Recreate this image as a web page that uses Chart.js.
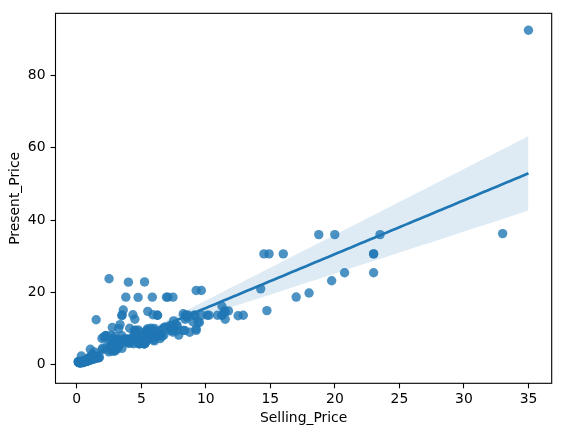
<!DOCTYPE html>
<html>
<head>
<meta charset="utf-8">
<script src="https://cdn.jsdelivr.net/npm/chart.js@4.4.1/dist/chart.umd.min.js"></script>
<style>
  html, body { margin: 0; padding: 0; background: #fff; }
  #wrap { width: 570px; height: 438px; }
</style>
</head>
<body>
<div id="wrap"><canvas id="myChart" width="570" height="438"></canvas></div>
<script>
// Selling_Price / Present_Price pairs (same index = same point)
const sellingPrice = [
    // cars, first block
    3.35, 4.75, 7.25, 2.85, 4.6, 9.25, 6.75, 6.5, 8.75, 7.45,
    2.85, 6.85, 7.5, 6.1, 2.25, 7.75, 7.25, 7.75, 3.25, 2.65,
    2.85, 4.9, 4.4, 2.5, 2.9, 3, 4.15, 6, 1.95, 7.45,
    3.1, 2.35, 4.95, 6, 5.5, 2.95, 4.65, 0.35, 3, 2.25,
    5.85, 2.55, 1.95, 5.5, 1.25, 7.5, 2.65, 1.05, 5.8, 7.75,
    14.9, 23, 18, 16, 2.75, 3.6, 4.5, 4.75, 4.1, 19.99,
    6.95, 4.5, 18.75, 23.5, 33, 4.75, 19.75, 9.25, 4.35, 14.25,
    3.95, 4.5, 7.45, 2.65, 4.9, 3.95, 5.5, 1.5, 5.25, 14.5,
    14.73, 4.75, 23, 12.5, 3.49, 2.5, 35, 5.9, 3.45, 4.75,
    3.8, 11.25, 3.51, 23, 4, 5.85, 20.75, 17, 7.05, 9.65,
    // two-wheelers
    1.75, 1.7, 1.65, 1.45, 1.35, 1.35, 1.35, 1.25, 1.2, 1.2,
    1.15, 1.15, 1.11, 1.1, 1.1, 1.1, 1.05, 1.05, 1.05, 1,
    0.95, 0.9, 0.9, 0.75, 0.8, 0.78, 0.75, 0.75, 0.65, 0.6,
    0.6, 0.6, 0.6, 0.6, 0.6, 0.55, 0.55, 0.52, 0.51, 0.5,
    0.5, 0.48, 0.48, 0.48, 0.45, 0.45, 0.45, 0.42, 0.42, 0.4,
    0.4, 0.4, 0.4, 0.38, 0.38, 0.35, 0.35, 0.35, 0.3, 0.3,
    0.3, 0.3, 0.3, 0.27, 0.25, 0.25, 0.25, 0.25, 0.25, 0.2,
    0.2, 0.2, 0.2, 0.2, 0.2, 0.2, 0.18, 0.17, 0.16, 0.16,
    0.15, 0.15, 0.12, 0.1, 0.45, 0.5, 0.65, 0.72, 0.85, 0.9,
    1.0, 1.2, 0.4, 0.25, 0.35, 0.6, 0.3, 0.2, 0.45, 0.5,
    // cars, second block
    3.25, 4.4, 2.95, 2.75, 5.25, 5.75, 5.15, 7.9, 4.85, 3.1,
    11.75, 11.25, 2.9, 5.25, 4.5, 2.9, 3.15, 6.45, 4.5, 3.5,
    4.5, 6.0, 8.25, 5.11, 2.7, 5.25, 2.55, 4.95, 3.1, 6.15,
    9.25, 11.45, 3.9, 5.5, 9.1, 3.1, 11.25, 4.8, 2.0, 5.35,
    6.25, 5.95, 5.2, 3.75, 5.95, 4.0, 5.25, 12.9, 5.0, 5.4,
    7.2, 5.25, 3.0, 10.25, 8.5, 8.4, 3.9, 9.15, 5.5, 4.0,
    6.6, 4.0, 6.5, 3.65, 8.35, 4.8, 6.7, 4.1, 3.0, 7.5,
    2.25, 5.3, 10.9, 8.65, 9.7, 6.0, 6.25, 5.25, 2.1, 8.25,
    8.99, 3.5, 7.4, 5.65, 5.75, 8.4, 10.11, 4.5, 5.4, 6.4,
    3.25, 3.75, 8.55, 9.5, 4.0, 3.35, 11.5, 5.3, 9.4, 11.5, 3.25
];
const presentPrice = [
    5.59, 9.54, 9.85, 4.15, 6.87, 9.83, 8.12, 8.61, 8.89, 8.92,
    3.6, 10.38, 9.94, 7.71, 7.21, 10.79, 10.79, 10.79, 5.09, 7.98,
    3.95, 5.71, 8.01, 3.46, 4.41, 4.99, 5.87, 6.49, 3.95, 10.38,
    5.98, 4.89, 7.49, 9.95, 8.06, 7.74, 7.2, 2.28, 3.76, 7.98,
    7.87, 3.98, 7.15, 8.06, 2.69, 12.04, 4.89, 4.15, 7.71, 9.29,
    30.61, 30.61, 19.77, 30.61, 10.21, 15.04, 7.7, 18.54, 6.8, 35.96,
    18.61, 7.7, 35.96, 35.96, 36.23, 6.95, 23.15, 20.45, 13.74, 20.91,
    6.76, 12.48, 18.61, 5.71, 8.93, 6.8, 14.68, 12.35, 22.83, 30.61,
    14.89, 7.85, 25.39, 13.46, 13.46, 23.73, 92.6, 13.74, 6.05, 6.76,
    18.61, 16.09, 13.7, 30.61, 22.78, 18.61, 25.39, 18.64, 18.61, 20.45,

    1.9, 1.82, 1.78, 1.6, 1.47, 2.37, 3.45, 1.5, 1.5, 1.47,
    2.37, 1.4, 1.47, 1.47, 1.9, 1.26, 1.5, 1.17, 1.75, 1.75,
    1.75, 1.75, 1.05, 0.95, 0.87, 0.84, 0.82, 0.81, 0.74, 0.787,
    0.84, 0.82, 0.81, 0.99, 0.95, 0.82, 0.81, 0.51, 0.73, 0.84,
    0.88, 0.54, 0.51, 0.54, 0.54, 0.55, 0.81, 0.73, 0.52, 0.51,
    0.52, 0.54, 0.51, 0.57, 0.52, 0.52, 0.52, 0.54, 0.51, 0.52,
    0.57, 0.51, 0.57, 0.47, 0.57, 0.58, 0.52, 0.32, 0.51, 0.57,
    0.52, 0.51, 0.75, 0.65, 0.787, 0.52, 0.75, 0.52, 0.51, 0.54,
    0.55, 0.51, 0.58, 0.75, 0.64, 0.65, 0.95, 0.95, 0.99, 1.05,
    1.2, 1.5, 0.55, 0.47, 0.58, 0.8, 0.48, 0.58, 0.51, 0.65,

    6.79, 5.7, 4.6, 4.43, 5.7, 7.13, 5.7, 8.1, 5.7, 4.6,
    14.79, 13.6, 6.79, 5.7, 9.4, 4.43, 4.43, 7.13, 9.4, 4.43,
    9.4, 9.4, 9.4, 6.79, 6.79, 5.7, 4.6, 7.13, 6.79, 7.6,
    9.4, 14.79, 6.79, 9.4, 13.6, 4.43, 13.6, 5.7, 4.43, 6.79,
    13.6, 6.79, 6.79, 6.79, 7.6, 6.79, 7.13, 13.6, 7.6, 9.4,
    9.4, 6.79, 6.79, 13.6, 13.6, 13.6, 7.0, 13.6, 9.9, 6.95,
    7.7, 5.9, 8.4, 7.0, 9.4, 5.8, 10.0, 10.0, 5.35, 10.0,
    7.9, 8.5, 13.6, 13.6, 13.6, 8.4, 13.6, 5.9, 7.6, 14.0,
    11.8, 7.9, 9.4, 7.9, 10.0, 12.5, 13.6, 7.9, 6.4, 8.4,
    9.9, 6.8, 13.09, 11.6, 5.9, 11.0, 12.5, 5.9, 11.8, 14.5, 5.5
];

const xTicks = [0, 5, 10, 15, 20, 25, 30, 35];
const yTicks = [0, 20, 40, 60, 80];
const xTitle = 'Selling_Price';
const yTitle = 'Present_Price';

const blue = '#1f77b4';
const tickFont = { family: 'DejaVu Sans', size: 13.9 };

// ordinary least squares fit + 95% band (heteroskedasticity-robust standard error)
function regression(xs, ys) {
    const n = xs.length;
    let mx = 0, my = 0;
    for (let i = 0; i < n; i++) { mx += xs[i]; my += ys[i]; }
    mx /= n; my /= n;
    let sxx = 0, sxy = 0;
    for (let i = 0; i < n; i++) {
        sxx += (xs[i] - mx) * (xs[i] - mx);
        sxy += (xs[i] - mx) * (ys[i] - my);
    }
    const b = sxy / sxx;
    const a = my - b * mx;
    const res = xs.map((x, i) => ys[i] - (a + b * x));

    const lo = Math.min(...xs), hi = Math.max(...xs);
    const line = [], upper = [], lower = [];
    for (let k = 0; k < 100; k++) {
        const x = lo + (hi - lo) * k / 99;
        let v = 0;
        for (let i = 0; i < n; i++) {
            const w = 1 / n + (x - mx) * (xs[i] - mx) / sxx;
            v += w * w * res[i] * res[i];
        }
        const yhat = a + b * x;
        const half = 1.96 * Math.sqrt(v);
        line.push({ x: x, y: yhat });
        upper.push({ x: x, y: yhat + half });
        lower.push({ x: x, y: yhat - half });
    }
    return { line, upper, lower };
}

const fit = regression(sellingPrice, presentPrice);
const points = sellingPrice.map((s, i) => ({ x: s, y: presentPrice[i] }));

// box round the plot area, like the matplotlib spines
const frame = {
    id: 'frame',
    afterDraw(chart) {
        const { ctx, chartArea: c } = chart;
        ctx.save();
        ctx.strokeStyle = '#000';
        ctx.lineWidth = 1.1;
        ctx.strokeRect(c.left, c.top, c.right - c.left, c.bottom - c.top);
        ctx.restore();
    }
};

new Chart(document.getElementById('myChart'), {
    type: 'scatter',
    data: {
        datasets: [
            {
                data: fit.line,
                showLine: true,
                borderColor: blue,
                borderWidth: 2.7,
                pointRadius: 0,
                fill: false,
                order: 0
            },
            {
                data: fit.lower,
                showLine: true,
                borderWidth: 0,
                borderColor: 'rgba(0,0,0,0)',
                pointRadius: 0,
                fill: false,
                order: 2
            },
            {
                data: fit.upper,
                showLine: true,
                borderWidth: 0,
                borderColor: 'rgba(0,0,0,0)',
                backgroundColor: 'rgba(31,119,180,0.15)',
                pointRadius: 0,
                fill: '-1',
                order: 1
            },
            {
                data: points,
                pointRadius: 4.7,
                pointBorderWidth: 0,
                pointBackgroundColor: 'rgba(31,119,180,0.8)',
                order: 3
            }
        ]
    },
    options: {
        responsive: false,
        animation: false,
        devicePixelRatio: 1,
        layout: { padding: { left: 0, right: 18.3, top: 13.3, bottom: 0 } },
        plugins: {
            legend: { display: false },
            tooltip: { enabled: false }
        },
        scales: {
            x: {
                type: 'linear',
                min: -1.65,
                max: 36.8,
                afterBuildTicks: ax => { ax.ticks = xTicks.map(v => ({ value: v })); },
                afterFit: ax => { ax.height = 54.7; },
                grid: { drawOnChartArea: false, drawTicks: true, tickLength: 5, tickColor: '#000', tickWidth: 1.1 },
                border: { display: false },
                ticks: { color: '#000', font: tickFont, padding: 3, maxRotation: 0, autoSkip: false },
                title: {
                    display: true, text: xTitle, color: '#000', font: tickFont,
                    padding: { top: 0, bottom: 11.7 }
                }
            },
            y: {
                type: 'linear',
                min: -5.27,
                max: 97.3,
                afterBuildTicks: ax => { ax.ticks = yTicks.map(v => ({ value: v })); },
                afterFit: ax => { ax.width = 55.5; },
                grid: { drawOnChartArea: false, drawTicks: true, tickLength: 5, tickColor: '#000', tickWidth: 1.1 },
                border: { display: false },
                ticks: { color: '#000', font: tickFont, padding: 5, autoSkip: false },
                title: {
                    display: true, text: yTitle, color: '#000', font: tickFont,
                    padding: { top: 6.7, bottom: 0 }
                }
            }
        }
    },
    plugins: [frame]
});
</script>
</body>
</html>
